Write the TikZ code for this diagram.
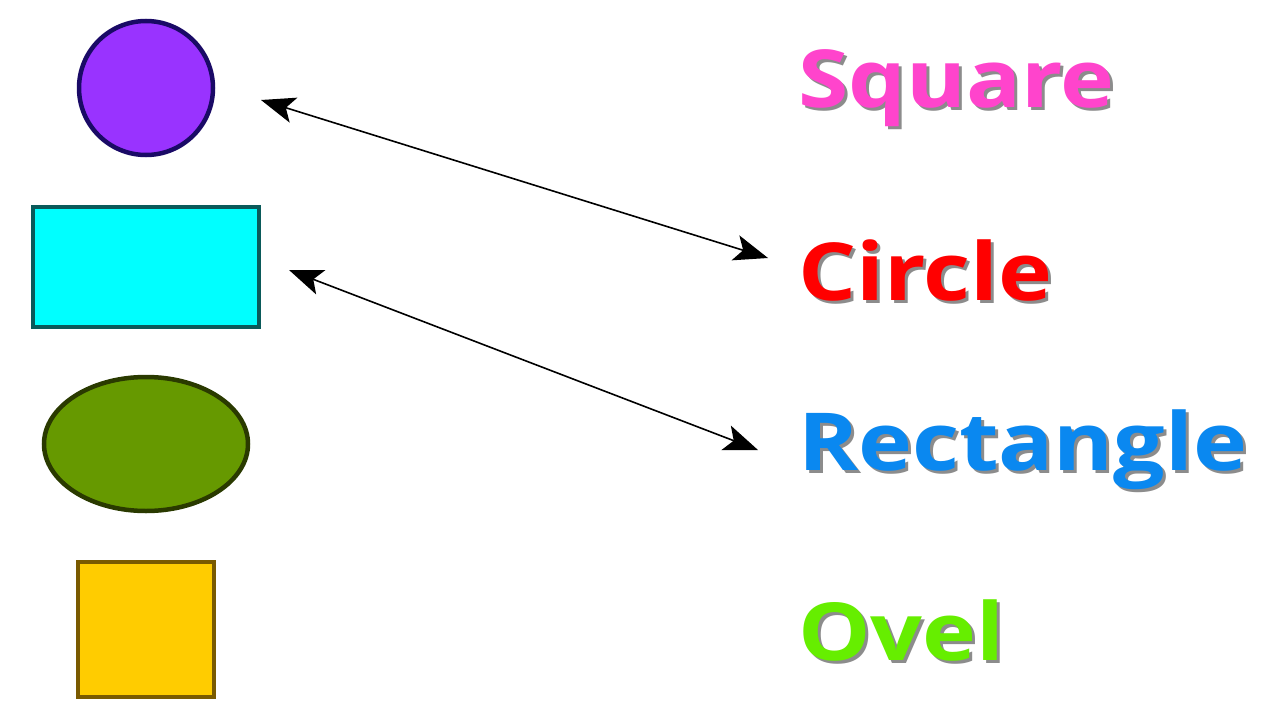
\documentclass[tikz,border=0pt]{standalone}
\usepackage{fontspec}
\setmainfont{Open Sans}
\usetikzlibrary{arrows.meta}
\definecolor{cpur}{HTML}{9933FF}\definecolor{cpurb}{HTML}{1A0A66}
\definecolor{ccy}{HTML}{00FFFF}\definecolor{ccyb}{HTML}{0A5A5A}
\definecolor{cgr}{HTML}{669900}\definecolor{cgrb}{HTML}{2A3A00}
\definecolor{cye}{HTML}{FFCC00}\definecolor{cyeb}{HTML}{7A5A00}
\definecolor{tpink}{HTML}{FF44CC}\definecolor{tred}{HTML}{FF0000}
\definecolor{tblue}{HTML}{0A88F0}\definecolor{tgreen}{HTML}{66EE00}
\tikzset{shp/.style={line width=4.5pt},
lbl/.style={anchor=west,inner sep=0pt,xscale=1.14,font=\fontsize{80}{84}\selectfont\bfseries},
arr/.style={line width=1.6pt,{Stealth[length=34pt,width=26pt,inset=8pt]}-{Stealth[length=34pt,width=26pt,inset=8pt]}}}
\newcommand{\lab}[4]{\node[lbl,text=black,opacity=0.45] at (#2+3,#3+3) {#4};
\node[lbl,text=#1] (#4) at (#2,#3) {#4};}
\begin{document}
\begin{tikzpicture}[x=1pt,y=-1pt]
\useasboundingbox (0,0) rectangle (1280,720);
\fill[white] (0,0) rectangle (1280,720);
\draw[shp,fill=cpur,draw=cpurb] (146,88) circle (67);
\draw[shp,fill=ccy,draw=ccyb] (33,207) rectangle (259,327);
\draw[shp,fill=cgr,draw=cgrb] (146,444) ellipse (102 and 67);
\draw[shp,fill=cye,draw=cyeb] (78,562) rectangle (214,697);
\lab{tpink}{798}{88}{Square}
\lab{tred}{798}{270}{Circle}
\lab{tblue}{798}{450}{Rectangle}
\lab{tgreen}{798}{630}{Ovel}
\coordinate (a1) at (261,100); \coordinate (b1) at (768,258);
\coordinate (a2) at (289,270); \coordinate (b2) at (758,450);
\draw[arr] (a1) -- (b1);
\draw[arr] (a2) -- (b2);
\end{tikzpicture}
\end{document}
